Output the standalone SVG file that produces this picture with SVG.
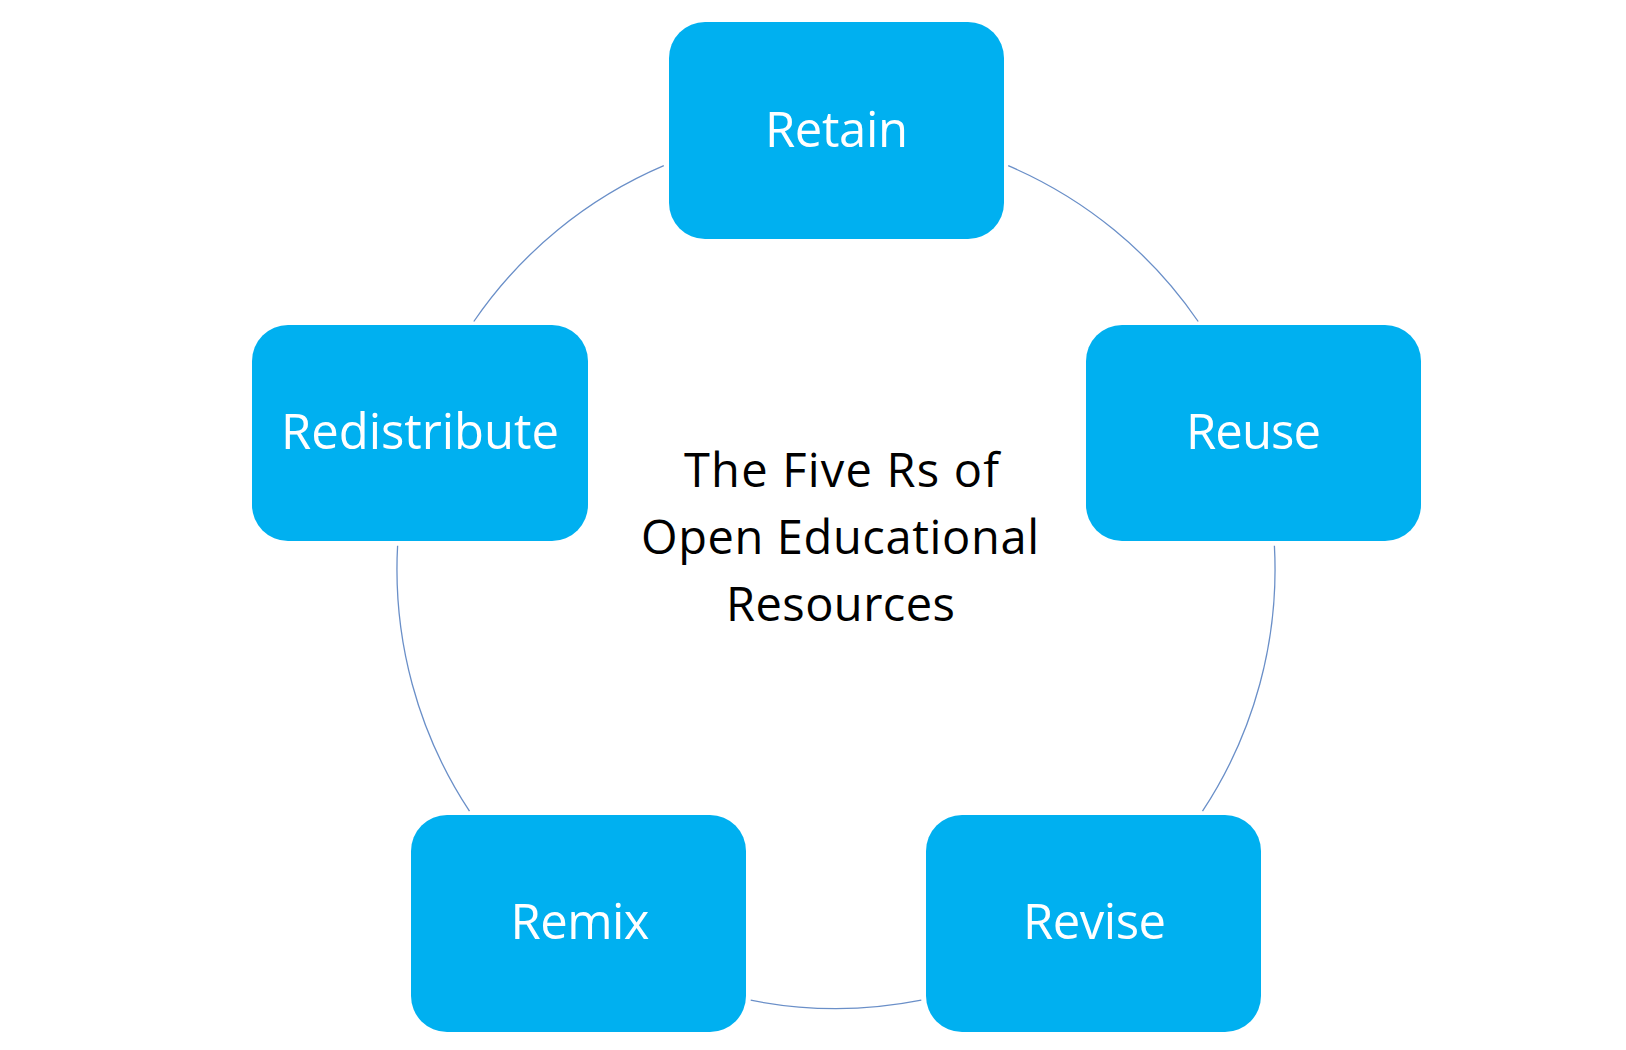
<svg xmlns="http://www.w3.org/2000/svg" width="1626" height="1050" viewBox="0 0 1626 1050">
<style>
.box{fill:#00B0F0;}
.lbl{font-family:"Open Sans","Noto Sans","Liberation Sans",sans-serif;font-size:49px;fill:#ffffff;text-anchor:middle;}
.title{font-family:"Open Sans","Noto Sans","Liberation Sans",sans-serif;font-size:47px;fill:#000000;text-anchor:middle;}
.arc{fill:none;stroke:#6a8fc8;stroke-width:1.3;}
</style>
<rect width="1626" height="1050" fill="#ffffff"/>
<g id="connectors">
<path class="arc" d="M1008.2 165.7 A439 439 0 0 1 1198.2 321.5"/>
<path class="arc" d="M1274.4 545.8 A439 439 0 0 1 1202.5 811.2"/>
<path class="arc" d="M921.3 1000.2 A439 439 0 0 1 750.7 1000.2"/>
<path class="arc" d="M469.5 811.2 A439 439 0 0 1 397.6 545.8"/>
<path class="arc" d="M473.8 321.5 A439 439 0 0 1 663.8 165.7"/>
</g>
<g id="title">
<text class="title" x="841.5" y="487" textLength="315">The Five Rs of</text>
<text class="title" x="840" y="554" textLength="398">Open Educational</text>
<text class="title" x="840.5" y="621" textLength="229">Resources</text>
</g>
<g id="node-retain">
<rect class="box" x="669" y="22" width="335" height="217" rx="36" ry="36"/>
<text class="lbl" x="836.5" y="147" textLength="143">Retain</text>
</g>
<g id="node-reuse">
<rect class="box" x="1086" y="325" width="335" height="216" rx="36" ry="36"/>
<text class="lbl" x="1253.5" y="449" textLength="135">Reuse</text>
</g>
<g id="node-revise">
<rect class="box" x="926" y="815" width="335" height="217" rx="36" ry="36"/>
<text class="lbl" x="1094.5" y="939" textLength="143">Revise</text>
</g>
<g id="node-remix">
<rect class="box" x="411" y="815" width="335" height="217" rx="36" ry="36"/>
<text class="lbl" x="580" y="939" textLength="139">Remix</text>
</g>
<g id="node-redistribute">
<rect class="box" x="252" y="325" width="336" height="216" rx="36" ry="36"/>
<text class="lbl" x="420" y="449" textLength="278">Redistribute</text>
</g>
</svg>
